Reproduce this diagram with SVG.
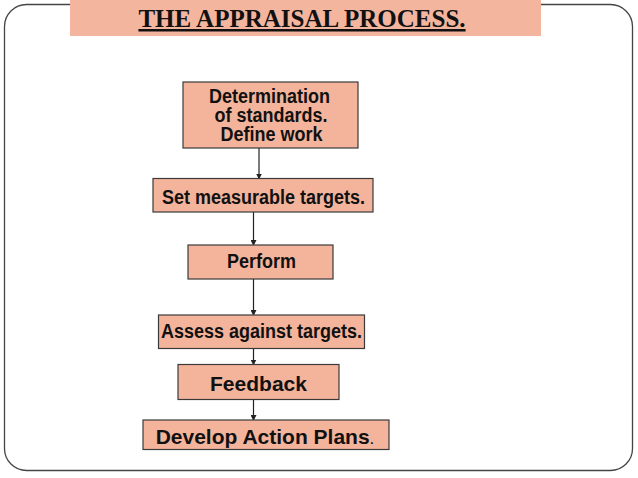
<svg xmlns="http://www.w3.org/2000/svg" width="638" height="478" viewBox="0 0 638 478">
<defs>
<style>
.box{fill:#f4b49c;stroke:#3a3a3a;stroke-width:1.2}
.t{font-family:"Liberation Sans",Arial,sans-serif;font-weight:bold;fill:#111;text-anchor:middle}
.conn{stroke:#222;stroke-width:1.2;fill:none;marker-end:url(#ah)}
</style>
<marker id="ah" markerWidth="6" markerHeight="6" refX="5" refY="3" orient="auto" markerUnits="userSpaceOnUse">
<path d="M0,0 L6,3 L0,6 Z" fill="#222"/>
</marker>
</defs>
<rect x="0" y="0" width="638" height="478" fill="#fff"/>
<rect x="4.5" y="4.5" width="628" height="466" rx="22" ry="22" fill="none" stroke="#444" stroke-width="1.3"/>
<g id="title">
<rect x="70" y="0" width="471" height="36" fill="#f4b59e"/>
<text x="302" y="27" font-family="'Liberation Serif','Times New Roman',serif" font-weight="bold" font-size="25" text-anchor="middle" text-decoration="underline" fill="#111">THE APPRAISAL PROCESS.</text>
</g>
<g id="connectors">
<line class="conn" x1="259" y1="148" x2="259" y2="178.5"/>
<line class="conn" x1="253.5" y1="212" x2="253.5" y2="245"/>
<line class="conn" x1="253.5" y1="279" x2="253.5" y2="315"/>
<line class="conn" x1="253.5" y1="348.5" x2="253.5" y2="364.5"/>
<line class="conn" x1="253.5" y1="399.5" x2="253.5" y2="420"/>
</g>
<g id="n1">
<rect class="box" x="183" y="82" width="175" height="66"/>
<text class="t" font-size="18" transform="matrix(1 0 0 1.08 0 0)"><tspan x="269.5" y="95.4">Determination</tspan><tspan x="271" y="112.6">of standards.</tspan><tspan x="271.5" y="131">Define work</tspan></text>
</g>
<g id="n2">
<rect class="box" x="153" y="178.5" width="220" height="33.5"/>
<text class="t" font-size="18" transform="matrix(1 0 0 1.08 0 204)" x="263.5" y="0">Set measurable targets.</text>
</g>
<g id="n3">
<rect class="box" x="188" y="245" width="145" height="34"/>
<text class="t" font-size="18" transform="matrix(1 0 0 1.08 0 268.3)" x="261.5" y="0">Perform</text>
</g>
<g id="n4">
<rect class="box" x="158.5" y="315" width="206" height="33.5"/>
<text class="t" font-size="18" transform="matrix(1 0 0 1.08 0 338.3)" x="261.5" y="0">Assess against targets.</text>
</g>
<g id="n5">
<rect class="box" x="178" y="364.5" width="161" height="35"/>
<text class="t" font-size="21" x="258.5" y="391">Feedback</text>
</g>
<g id="n6">
<rect class="box" x="143" y="420" width="246" height="29.5"/>
<text class="t" font-size="21" x="265" y="443.5">Develop Action Plans<tspan font-weight="normal" font-size="17">.</tspan></text>
</g>
</svg>
